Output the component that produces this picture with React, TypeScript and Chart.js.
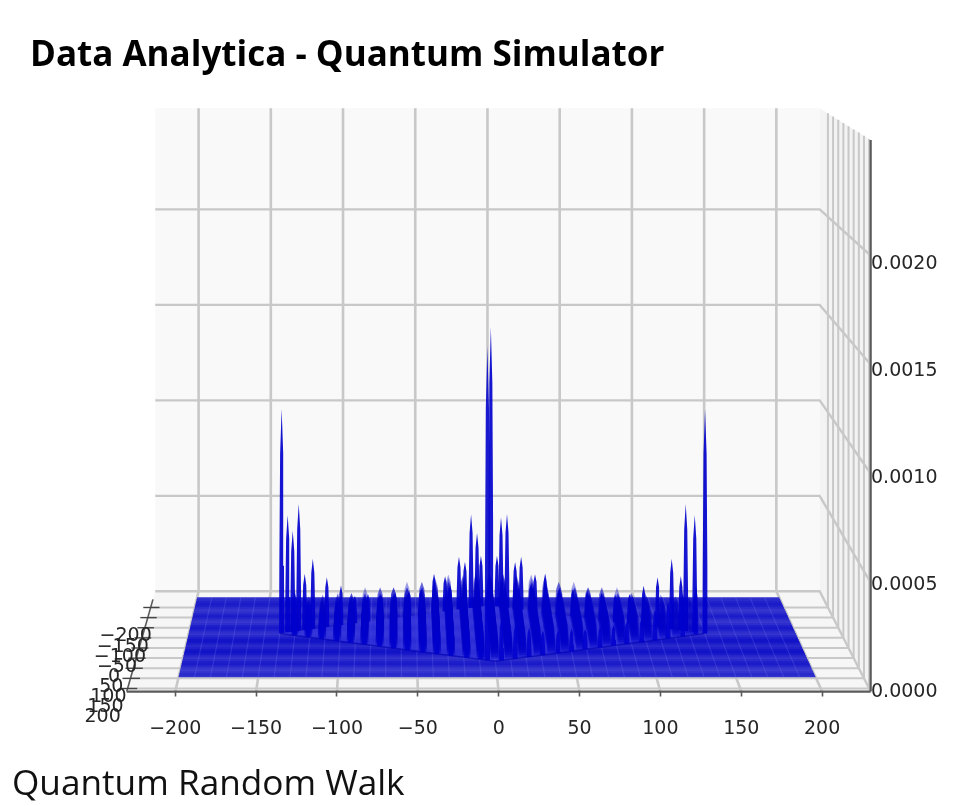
import { useEffect, useRef } from "react";
import { Chart, registerables } from "chart.js";

Chart.register(...registerables);

// axis ticks of the 3d box
const xTicks = [-200, -150, -100, -50, 0, 50, 100, 150, 200];
const yTicks = [-200, -150, -100, -50, 0, 50, 100, 150, 200];
const zTicks = [0.0005, 0.001, 0.0015, 0.002];

const backEdgeX = [
    -138.8, -134.9, -131.6, -127.7, -123.8, -118.5, -109.3, -100, -90.8, -82.1, -73.4, -64, -54.6, -46.5, -37.7,
    -30.2, -26.8, -20.7, -16.6, -12.4, -8.3, -5.6, 1.2, 5.3, 8, 12, 17.4, 21.4, 28, 30.6, 37.3, 46.5, 55.5, 64.9,
    74.1, 83, 92.2, 101.3, 110.2, 119.2, 125, 128.1, 133.8, 140.3,
];
const backEdgeZ = [
    0.00111, 0.00058, 0.0005, 0.00063, 0.00028, 0.00035, 0.00025, 0.0002, 0.00014, 0.00014, 0.00013, 0.00013, 0.00013,
    0.00013, 0.0002, 0.00018, 0.00013, 0.00027, 0.00024, 0.00048, 0.00038, 0.00026, 0.00143, 0.00026, 0.00046, 0.00048,
    0.00024, 0.00027, 0.00014, 0.00019, 0.0002, 0.00013, 0.00014, 0.00014, 0.00014, 0.00014, 0.00015, 0.0002, 0.00025,
    0.00035, 0.00027, 0.00063, 0.00058, 0.00111,
];

// peaks on the near edges
const frontEdgeX = [
    -130, -121, -112, -102, -93, -84, -74, -65, -56, -46, -37, -28, -18, -9, -5, 4, 13, 22, 31, 41, 50, 59, 69, 78, 87,
    97, 106, 115, 125, 134,
];
const frontEdgeZ = [
    0.00022, 0.00018, 0.00015, 0.00012, 0.00011, 0.0001, 0.0001, 0.0001, 0.00011, 0.00011, 0.00012, 0.00014, 0.00016,
    0.0002, 0.0015, 0.0002, 0.00016, 0.00014, 0.00012, 0.00011, 0.00011, 0.0001, 0.0001, 0.0001, 0.00011, 0.00012,
    0.00015, 0.00018, 0.00022, 0.00024,
];

// small spikes inside the diamond
const latticeX = [
    -130, -121, -112, -102, -93, -84, -74, -65, -56, -46, -37, -28, -18, -9, 0, 9, 18, 28, 37, 46, 56, 65, 74, 84, 93,
    102, 112, 121, 130,
];
const latticeOffset = [
    -125, -116, -107, -97, -88, -79, -70, -60, -51, -42, -32, -23, -14, -5, 5, 14, 23, 32, 42, 51, 60, 70, 79, 88, 97,
    107, 116, 125,
];
const latticeZ = [
    0.00018, 0.00017, 0.00019, 0.00018, 0.00017, 0.00018, 0.00016, 0.00017, 0.00018, 0.00016, 0.00017, 0.00017, 0.00015,
    0.00018, 0.00017, 0.00015, 0.00017, 0.00017, 0.00015, 0.00016, 0.00015, 0.00016, 0.00015, 0.00016, 0.00015, 0.00016,
    0.00015, 0.00016,
];

// shading of the flat sheet, back row to front row
const surfaceShade = [
    0.88, 0.9, 0.93, 0.95, 0.93, 0.89, 0.86, 0.88, 0.92, 0.95, 0.92, 0.88, 0.86, 0.89, 0.94, 0.96, 0.93, 0.89, 0.87,
    0.91, 0.95, 0.98, 0.97, 0.93, 0.9, 0.93, 0.97, 0.98, 0.95, 0.9, 0.87, 0.9, 0.94, 0.95, 0.91, 0.86, 0.84, 0.87, 0.9,
    0.88,
];

// box limits and view
const BOX_X = 230;
const BOX_BACK = -280;
const BOX_FRONT = 215;
const BOX_TOP = 0.00253;
const SHEET_BACK = -250;
const SHEET_FRONT = 145;
const SHEET_X = 200;
const DIAMOND_Y = -72;
const DIAMOND_R = 138;

const GRID = "rgb(200,200,200)";
const AXIS = "rgb(90,90,90)";
const TEXT = "#262626";

type Pt = { x: number; y: number };
const GAP: Pt = { x: NaN, y: NaN };

// 3d data point -> values on the x and z scales of the chart
function project(x: number, y: number, z: number): Pt {
    const row = 646.5 + 0.2025 * y;
    const t = (row - 590) / 100;
    const px = 487.5 + 11.2 * t + (1.445 + 0.1725 * t) * x;
    const py = row - (191000 + 27000 * t) * z;
    return { x: (px - 498.7) / 1.6175, y: (690 - py) / 214000 };
}

function buildLayers() {
    const layers: any[] = [];
    const line = (data: Pt[], color: string, width = 2) =>
        layers.push({ data, yAxisID: "z", showLine: true, borderColor: color, borderWidth: width, pointRadius: 0, fill: false, clip: false });
    const shape = (data: Pt[], color: string) =>
        layers.push({ data, yAxisID: "z", showLine: true, borderWidth: 0, backgroundColor: color, pointRadius: 0, fill: "shape", clip: false });
    // thin needle: nearly straight sides, then a quick taper to the tip
    const spike = (x: number, y: number, z: number, w: number) => [
        project(x + w, y, 0),
        project(x + w * 0.9, y, z * 0.3),
        project(x + w * 0.6, y, z * 0.8),
        project(x, y, z),
        project(x - w * 0.6, y, z * 0.8),
        project(x - w * 0.9, y, z * 0.3),
        project(x - w, y, 0),
        GAP,
    ];

    // panes
    shape([project(BOX_X, BOX_BACK, 0), project(BOX_X, BOX_BACK, BOX_TOP), project(-BOX_X, BOX_BACK, BOX_TOP), project(-BOX_X, BOX_BACK, 0)], "#f9f9f9");
    shape([project(BOX_X, BOX_FRONT, 0), project(BOX_X, BOX_FRONT, BOX_TOP), project(BOX_X, BOX_BACK, BOX_TOP), project(BOX_X, BOX_BACK, 0)], "#f3f3f3");
    shape([project(BOX_X, BOX_FRONT, 0), project(BOX_X, BOX_BACK, 0), project(-BOX_X, BOX_BACK, 0), project(-BOX_X, BOX_FRONT, 0)], "#f6f6f6");

    // grid lines on panes
    xTicks.forEach((x) => {
        line([project(x, BOX_BACK, BOX_TOP), project(x, BOX_BACK, 0), project(x, BOX_FRONT, 0)], GRID, 2.6);
    });
    yTicks.forEach((y) => {
        line([project(-BOX_X, y, 0), project(BOX_X, y, 0), project(BOX_X, y, BOX_TOP)].reverse(), GRID, 2);
    });
    [0, ...zTicks].forEach((z) => {
        line([project(-BOX_X, BOX_BACK, z), project(BOX_X, BOX_BACK, z), project(BOX_X, BOX_FRONT, z)], GRID, 2.4);
    });

    // flat sheet, one opaque strip per row, each lapping the one before so no seams show
    const step = (SHEET_FRONT - SHEET_BACK) / surfaceShade.length;
    surfaceShade.forEach((a, i) => {
        const y0 = SHEET_BACK + i * step;
        const y1 = i === surfaceShade.length - 1 ? SHEET_FRONT : y0 + step + 4;
        const c = Math.round(12 + (1 - a) * 300);
        const b = Math.round(198 + (1 - a) * 60);
        shape([project(SHEET_X, y0, 0), project(-SHEET_X, y0, 0), project(-SHEET_X, y1, 0), project(SHEET_X, y1, 0)], `rgb(${c},${c},${b})`);
    });

    // faint mesh on the sheet
    const meshV: Pt[] = [];
    for (let x = -SHEET_X + 10; x < SHEET_X; x += 10) {
        meshV.push(project(x, SHEET_BACK, 0), project(x, SHEET_FRONT, 0), GAP);
    }
    line(meshV, "rgba(130,130,245,0.22)", 1.2);

    // back edge peaks
    const edgeY = (x: number, side: number) => DIAMOND_Y + side * (DIAMOND_R - (DIAMOND_R * Math.abs(x)) / 140);
    shape(backEdgeX.flatMap((x, i) => spike(x, edgeY(x, -1), backEdgeZ[i], 1.7)), "rgba(0,0,205,0.92)");

    // inside of the diamond
    shape(
        [project(140, DIAMOND_Y, 0), project(0, DIAMOND_Y - DIAMOND_R, 0), project(-140, DIAMOND_Y, 0), project(0, DIAMOND_Y + DIAMOND_R, 0)],
        "rgba(55,55,222,0.75)",
    );
    const inner: Pt[] = [];
    latticeOffset.forEach((dy, j) => {
        latticeX.forEach((x) => {
            if (Math.abs(x) + Math.abs(dy) < 136) {
                inner.push(...spike(x, DIAMOND_Y + dy, latticeZ[j], 2.7));
            }
        });
    });
    shape(inner, "rgba(0,0,200,0.36)");

    // near edge peaks
    line([project(140, DIAMOND_Y, 0), project(0, DIAMOND_Y + DIAMOND_R, 0), project(-140, DIAMOND_Y, 0)], "rgba(0,0,175,0.6)", 1.5);
    shape(frontEdgeX.flatMap((x, i) => spike(x, edgeY(x, 1), frontEdgeZ[i], 1.7)), "rgba(0,0,205,0.88)");

    // axis lines of the box
    line([project(BOX_X, BOX_FRONT, 0), project(-BOX_X, BOX_FRONT, 0)], AXIS, 2.2);
    line([project(BOX_X, BOX_FRONT, 0), project(BOX_X, BOX_FRONT, BOX_TOP)], AXIS, 2.2);
    line([project(-BOX_X, BOX_BACK + 40, 0), project(-BOX_X, BOX_FRONT, 0)], AXIS, 1.6);
    yTicks.forEach((y) => {
        line([project(-BOX_X + 6, y, 0), project(-BOX_X - 5, y, 0)], "#444", 1.4);
    });

    layers.forEach((d, i) => {
        d.order = layers.length - i;
    });
    return layers;
}

const minusLabel = (v: number | string) => String(v).replace("-", "\u2212");

// depth axis labels sit off the left edge of the floor
const depthLabels = {
    id: "depthLabels",
    afterDatasetsDraw(chart: any) {
        const { ctx, scales } = chart;
        ctx.save();
        ctx.font = "19px 'DejaVu Sans'";
        ctx.fillStyle = TEXT;
        ctx.textAlign = "center";
        ctx.textBaseline = "middle";
        yTicks.forEach((y) => {
            const p = project(-BOX_X, y, 0);
            ctx.fillText(minusLabel(y), scales.x.getPixelForValue(p.x) - 25, scales.z.getPixelForValue(p.y) + 29);
        });
        ctx.restore();
    },
};

export default function App() {
    const canvasRef = useRef<HTMLCanvasElement>(null);

    useEffect(() => {
        if (!canvasRef.current) return;
        const chart = new Chart(canvasRef.current, {
            type: "scatter",
            data: { datasets: buildLayers() },
            plugins: [depthLabels],
            options: {
                responsive: false,
                animation: false,
                events: [],
                layout: { padding: { left: 129, top: 100, right: 0, bottom: 0 } },
                plugins: { legend: { display: false }, tooltip: { enabled: false } },
                scales: {
                    x: {
                        type: "linear",
                        min: -228.6,
                        max: 229.6,
                        afterFit: (s: any) => {
                            s.height = 114.5;
                        },
                        border: { display: false },
                        grid: { drawOnChartArea: false, tickLength: 5, tickColor: AXIS, tickWidth: 1.6 },
                        ticks: {
                            stepSize: 50,
                            includeBounds: false,
                            autoSkip: false,
                            maxRotation: 0,
                            padding: 21,
                            color: TEXT,
                            font: { family: "'DejaVu Sans'", size: 19 },
                            callback: (v: any) => minusLabel(v),
                        },
                    },
                    z: {
                        type: "linear",
                        axis: "y",
                        position: "right",
                        min: 0,
                        max: 0.002764,
                        afterFit: (s: any) => {
                            s.width = 102;
                        },
                        afterBuildTicks: (s: any) => {
                            s.ticks = s.ticks.filter((t: any) => t.value < 0.0021);
                        },
                        border: { display: false },
                        grid: { display: false, drawTicks: false },
                        ticks: {
                            stepSize: 0.0005,
                            includeBounds: false,
                            padding: 1,
                            labelOffset: 1,
                            color: TEXT,
                            font: { family: "'DejaVu Sans'", size: 19 },
                            callback: (v: any) => Number(v).toFixed(4),
                        },
                    },
                },
            } as any,
        } as any);
        return () => chart.destroy();
    }, []);

    return (
        <div style={{ position: "absolute", left: 0, top: 0, width: 972, height: 806, background: "#fff", overflow: "hidden" }}>
            <canvas ref={canvasRef} width={972} height={806} role="img" aria-label="Quantum random walk surface plot" style={{ display: "block" }} />
            <div style={{ position: "absolute", left: 30, top: 30, fontFamily: "'Open Sans'", fontWeight: 700, fontSize: 35, lineHeight: "46px", color: "#000", whiteSpace: "nowrap" }}>
                Data Analytica - Quantum Simulator
            </div>
            <div style={{ position: "absolute", left: 12, top: 757, fontFamily: "'Open Sans'", fontSize: 35.2, lineHeight: "48px", color: "#111", whiteSpace: "nowrap" }}>
                Quantum Random Walk
            </div>
        </div>
    );
}
